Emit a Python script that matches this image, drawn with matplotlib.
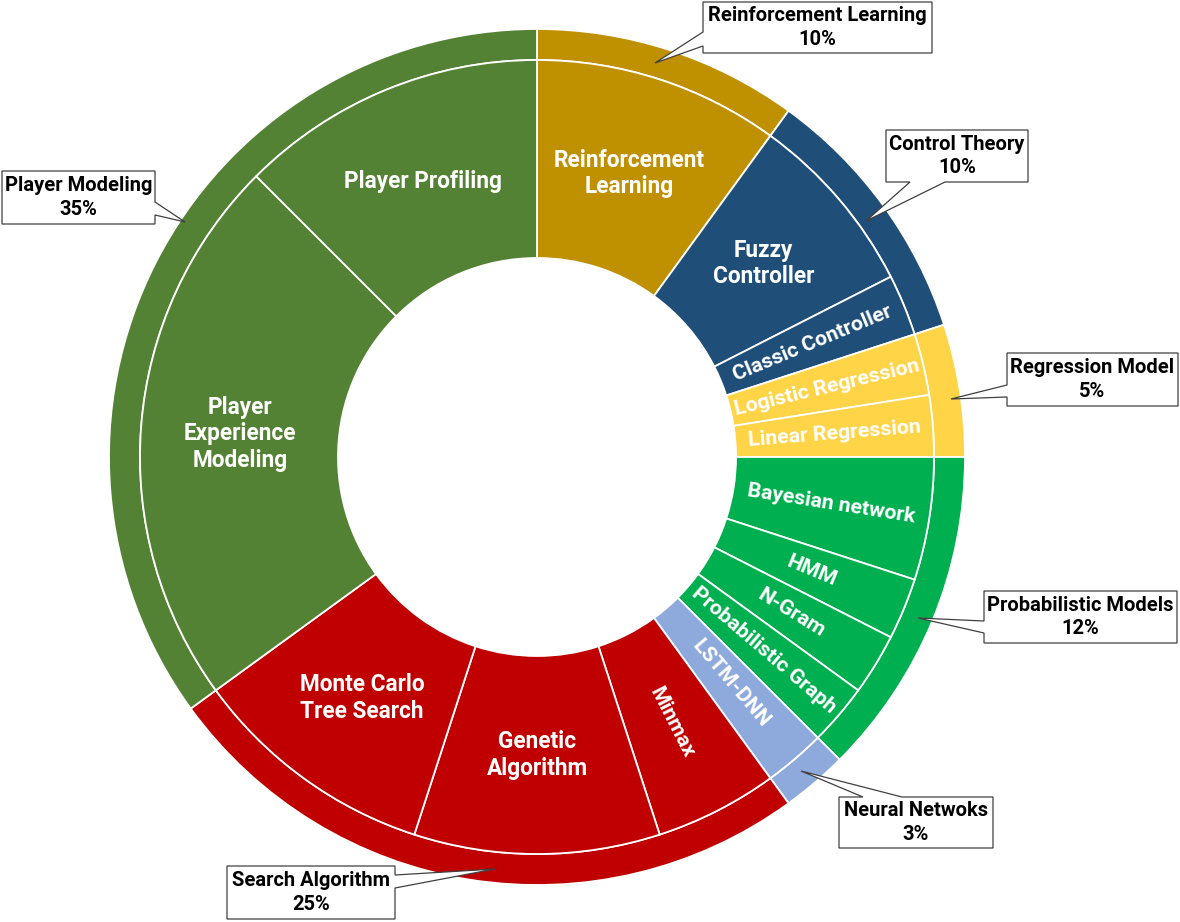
import matplotlib
matplotlib.use('Agg')
import matplotlib.pyplot as plt
from matplotlib.patches import Polygon
import numpy as np

plt.rcParams['font.family'] = ['Roboto', 'DejaVu Sans']

# outer ring: categories
categories = ['Reinforcement Learning', 'Control Theory', 'Regression Model',
              'Probabilistic Models', 'Neural Netwoks', 'Search Algorithm',
              'Player Modeling']
category_pct = ['10%', '10%', '5%', '12%', '3%', '25%', '35%']
category_colors = ['#BF9000', '#1F4E79', '#FFD447', '#00B050', '#8EA9DB',
                   '#C00000', '#548235']

# inner ring: methods (number of papers), clockwise from 12 o'clock
sub_labels = ['Reinforcement\nLearning', 'Fuzzy\nController', 'Classic Controller',
              'Logistic Regression', 'Linear Regression', 'Bayesian network',
              'HMM', 'N-Gram', 'Probabilistic Graph', 'LSTM-DNN', 'Minmax',
              'Genetic\nAlgorithm', 'Monte Carlo\nTree Search',
              'Player\nExperience\nModeling', 'Player Profiling']
sub_counts = [4, 3, 1, 1, 1, 2, 1, 1, 1, 1, 2, 4, 4, 9, 5]
sub_parent = [0, 1, 1, 2, 2, 3, 3, 3, 3, 4, 5, 5, 5, 6, 6]

outer_counts = [sum(c for c, p in zip(sub_counts, sub_parent) if p == i)
                for i in range(len(categories))]

W, H = 1180, 922
cx, cy = 537, H - 457
r_out, r_mid, r_in = 428, 397, 199

fig = plt.figure(figsize=(W / 100, H / 100), dpi=100)
ax = fig.add_axes([0, 0, 1, 1])

ax.pie(outer_counts, radius=r_out, center=(cx, cy), startangle=90,
       counterclock=False, colors=category_colors,
       wedgeprops=dict(width=r_out - r_mid, edgecolor='white', linewidth=1.3))
inner, _ = ax.pie(sub_counts, radius=r_mid, center=(cx, cy), startangle=90,
                  counterclock=False,
                  colors=[category_colors[p] for p in sub_parent],
                  wedgeprops=dict(width=r_mid - r_in, edgecolor='white',
                                  linewidth=1.3))

# labels inside the inner ring (narrow slices get radial text)
r_lab = (r_mid + r_in) / 2
for w, lab, n in zip(inner, sub_labels, sub_counts):
    mid = (w.theta1 + w.theta2) / 2
    x = cx + r_lab * np.cos(np.radians(mid))
    y = cy + r_lab * np.sin(np.radians(mid))
    rot, fs = 0, 16.3
    if n <= 2:
        fs = 15.3
        rot = (mid + 180) % 360 - 180
        if rot > 90:
            rot -= 180
        elif rot < -90:
            rot += 180
    ax.text(x, y, lab, ha='center', va='center', rotation=rot,
            rotation_mode='anchor', color='white', fontsize=fs,
            fontweight='bold', linespacing=1.2)

# callout boxes (image pixel coords: box, side of pointer, pointer base, tip)
callouts = [
    ((703, 2, 932, 53), 'left', (32, 46), (655, 63)),
    ((886, 130, 1028, 182), 'bottom', (910, 945), (866, 221)),
    ((1007, 353, 1178, 406), 'left', (385, 397), (951, 399)),
    ((984, 591, 1177, 643), 'left', (621, 633), (918, 618)),
    ((839, 797, 993, 848), 'top', (863, 902), (801, 771)),
    ((227, 866, 395, 919), 'right', (875, 888), (495, 869)),
    ((2, 171, 155, 224), 'right', (202, 215), (185, 222)),
]


def callout(ax, box, side, base, tip, text):
    x0, y0, x1, y1 = box
    b0, b1 = base
    pts = [(x0, y0)]
    if side == 'top':
        pts += [(b0, y0), tip, (b1, y0)]
    pts.append((x1, y0))
    if side == 'right':
        pts += [(x1, b0), tip, (x1, b1)]
    pts.append((x1, y1))
    if side == 'bottom':
        pts += [(b1, y1), tip, (b0, y1)]
    pts.append((x0, y1))
    if side == 'left':
        pts += [(x0, b1), tip, (x0, b0)]
    pts = [(px, H - py) for px, py in pts]
    ax.add_patch(Polygon(pts, closed=True, facecolor='white',
                         edgecolor='#404040', linewidth=0.9, zorder=5))
    ax.text((x0 + x1) / 2, H - (y0 + y1) / 2, text, ha='center', va='center',
            fontsize=14.5, fontweight='bold', color='black', zorder=6,
            linespacing=1.3)


for (box, side, base, tip), name, pct in zip(callouts, categories, category_pct):
    callout(ax, box, side, base, tip, name + '\n' + pct)

ax.set_xlim(0, W)
ax.set_ylim(0, H)
ax.set_aspect('equal')
ax.axis('off')

fig.savefig('out.png', dpi=100)
